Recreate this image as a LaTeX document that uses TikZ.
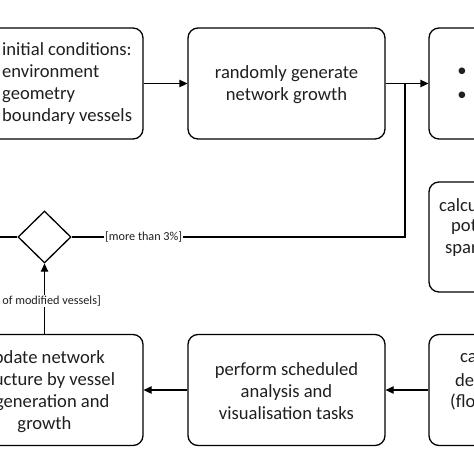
\documentclass[tikz,border=0pt]{standalone}
\usepackage{fontspec}
\setmainfont{Carlito}
\usetikzlibrary{shapes.geometric,arrows.meta}
\begin{document}
\begin{tikzpicture}[x=1pt,y=-1pt,
  box/.style={draw, line width=1.3pt, rounded corners=10pt, minimum width=197pt, minimum height=111pt, inner sep=0pt},
  txt/.style={font=\fontsize{18.6}{22}\selectfont, inner sep=0pt, align=center, text=black!88},
  frag/.style={txt, anchor=west},
  lbl/.style={font=\fontsize{12.2}{14}\selectfont, fill=white, inner sep=1pt, text=black!88},
  conn/.style={line width=1.3pt},
  arr/.style={conn, -{Triangle[length=8pt,width=7.5pt]}},
  dec/.style={draw, diamond, line width=1.3pt, minimum width=53pt, minimum height=52pt, inner sep=0pt, aspect=1}
]
\useasboundingbox (0,0) rectangle (474,474);
\clip (0,0) rectangle (474,474);
% boxes
\node[box] (b1) at (44.5,83.5) {};
\node[box] (b2) at (286.5,83.5) {};
\node[box] (b3) at (527.5,83.5) {};
\node[box, minimum height=110pt] (b7) at (527.5,237) {};
\node[box] (b4) at (44.5,390) {};
\node[box] (b5) at (286.5,390) {};
\node[box] (b6) at (527.5,390) {};
\node[dec] (dia) at (44.5,237) {};
% texts
\node[txt, anchor=west, align=left] (t1) at (2,84) {initial conditions:\\environment\\geometry\\boundary vessels};
\node[txt] (t2) at (286.5,84.5) {randomly generate\\network growth};
\node[txt] (t3a) at (462,72) {•};
\node[txt] (t3b) at (462,96) {•};
\node[frag] (t7a) at (439,205) {calcu};
\node[frag] (t7b) at (451,227) {pot};
\node[frag] (t7c) at (445,250) {spar};
\node[txt] (t4) at (44.5,391.5) {update network\\structure by vessel\\regeneration and\\growth};
\node[txt] (t5) at (286.5,391) {perform scheduled\\analysis and\\visualisation tasks};
\node[frag] (t6a) at (460,358) {ca};
\node[frag] (t6b) at (455,380) {de};
\node[frag] (t6c) at (450,402) {(flo};
% connectors
\coordinate (j) at (405,83.5);
\coordinate (lfree) at (-10,237);
\draw[arr] (b1.east) -- (b2.west);
\draw[arr] (b2.east) -- (b3.west);
\draw[conn] (dia.east) -- node[lbl, pos=0.216] {[more than 3\%]} (dia.east -| j) -- (j);
\draw[conn] (dia.west) -- (lfree);
\draw[arr] (b4.north) -- (dia.south);
\node[lbl, anchor=east] (l2) at (102,301) {of modified vessels]};
\draw[arr] (b5.west) -- (b4.east);
\draw[arr] (b6.west) -- (b5.east);
\end{tikzpicture}
\end{document}
